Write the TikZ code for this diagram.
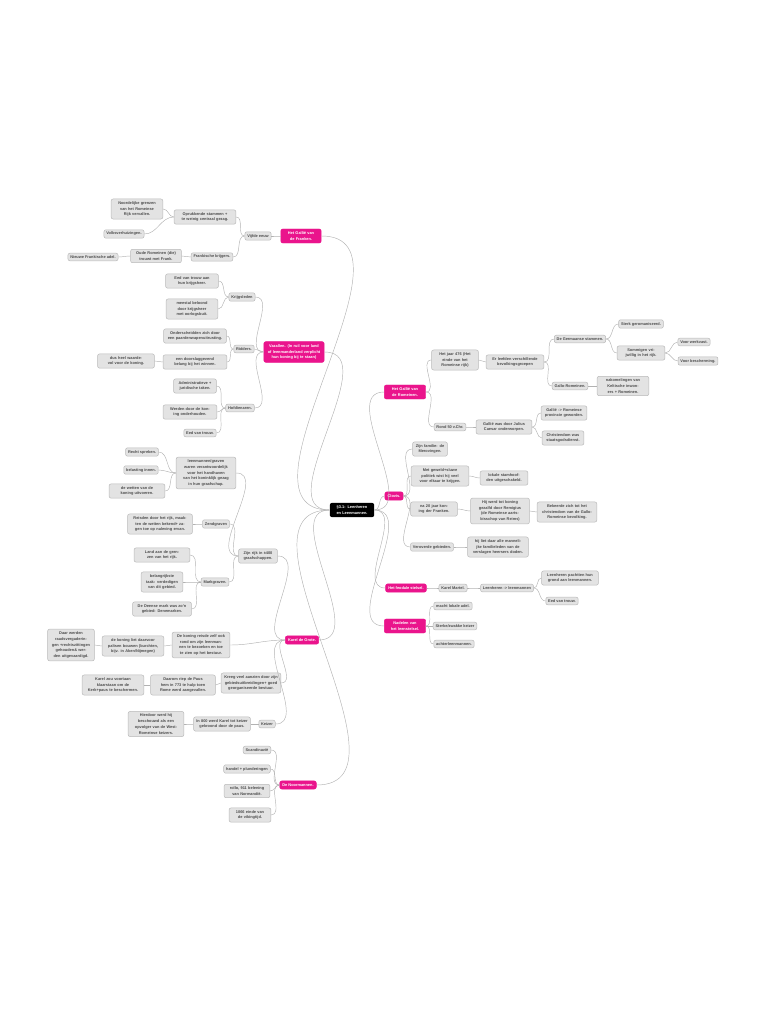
\documentclass[tikz,border=0pt]{standalone}
\usepackage{fontspec}
\setmainfont{Liberation Sans}
\begin{document}
\begin{tikzpicture}[x=1pt,y=-1pt,
 every node/.style={font=\fontsize{3.9}{5.8}\selectfont\bfseries, text=black!70, align=center},
 box/.style={draw=gray!55, fill=gray!22, rounded corners=2pt, inner sep=2.4pt, line width=0.5pt},
 pk/.style={fill={rgb,255:red,234;green,20;blue,140}, draw={rgb,255:red,234;green,20;blue,140}, text=white, rounded corners=2pt, inner sep=2.7pt},
 rt/.style={fill=black, text=white, rounded corners=2pt, inner sep=2.7pt},
 cn/.style={draw=gray!60, line width=0.45pt}]
\useasboundingbox (0,0) rectangle (768,1024);
\def\L#1#2{\draw[cn] (#1.west) to[out=180,in=0] (#2.east);}
\def\R#1#2{\draw[cn] (#1.east) to[out=0,in=180] (#2.west);}
% root
\node[rt,text width=39] (root) at (352,510) {§3.1: Leenheren en Leenmannen.};
% ---- Franken
\node[pk,text width=35] (fr) at (301,236) {Het Gallië van de Franken.};
\node[box] (v5) at (258,236) {Vijfde eeuw};
\node[box,text width=57] (opr) at (205,217) {Oprukkende stammen + te weinig centraal gezag.};
\node[box,text width=47] (noo) at (137,209) {Noordelijke grenzen van het Romeinse Rijk vervallen.};
\node[box] (vol) at (124,234) {Volksverhuizingen.};
\node[box] (fk) at (212,257) {Frankische krijgers.};
\node[box,text width=46] (oud) at (156,256) {Oude Romeinen (die) trouwt met Frank.};
\node[box] (nie) at (93,257) {Nieuwe Frankische adel.};
% ---- Vazallen
\node[pk,text width=55] (vaz) at (294,352) {Vazallen. (In ruil voor land of leenmanderland verplicht hun koning bij te staan)};
\node[box] (kr) at (242,297) {Krijgsleden};
\node[box,text width=48] (eed1) at (192,281) {Eed van trouw aan hun krijgsheer.};
\node[box,text width=47] (mee) at (192,309) {meestal beloond door krijgsheer met oorlogsbuit.};
\node[box] (rid) at (244,349) {Ridders.};
\node[box,text width=58] (ond) at (195,336) {Onderscheidden zich door een paardenwapenuitrusting.};
\node[box,text width=59] (doo) at (195,362) {een doorslaggevend belang bij het winnen.};
\node[box,text width=52] (dus) at (126,361) {dus heel waardevol voor de koning.};
\node[box] (hof) at (240,408) {Hofdienaren.};
\node[box,text width=38] (adm) at (195,386) {Administratieve + juridische taken.};
\node[box,text width=49] (wer) at (190,412) {Werden door de koning onderhouden.};
\node[box] (eed2) at (200,433) {Eed van trouw.};
% ---- Karel de Grote
\node[pk] (kdg) at (302,640) {Karel de Grote.};
\node[box,text width=34] (zij) at (258,556) {Zijn rijk in ±400 graafschappen.};
\node[box,text width=55] (lee) at (206,473) {leenmannen/graven waren verantwoordelijk voor het handhaven van het koninklijk gezag in hun graafschap.};
\node[box] (rec) at (142,452) {Recht spreken.};
\node[box] (bel) at (141,470) {belasting innen.};
\node[box,text width=51] (wet) at (137,491) {de wetten van de koning uitvoeren.};
\node[box] (zen) at (216,524) {Zendgraven};
\node[box,text width=60] (rei) at (160,524) {Reisden door het rijk, maakten de wetten bekend+ zagen toe op naleving ervan.};
\node[box] (mar) at (215,582) {Markgraven.};
\node[box,text width=51] (lan) at (162,555) {Land aan de grenzen van het rijk.};
\node[box,text width=37] (bta) at (162,582) {belangrijkste taak: verdedigen van dit gebied.};
\node[box,text width=54] (den) at (162,609) {De Deense mark was zo'n gebied: Denemarken.};
\node[box,text width=53] (kre) at (201,645) {De koning reisde zelf ook rond om zijn leenmannen te bezoeken en toe te zien op het bestuur.};
\node[box,text width=57] (pal) at (133,646) {de koning liet daarvoor paltsen bouwen (burchten, bijv. in Aken/Nijmegen)};
\node[box,text width=42] (daa) at (71,645) {Daar werden raadsvergaderingen +rechtszittingen gehouden\& werden uitgevaardigd.};
\node[box,text width=55] (kvz) at (251,683) {Kreeg veel aanzien door zijn gebiedsuitbreidingen+ goed georganiseerde bestuur.};
\node[box,text width=60] (dar) at (183,685) {Daarom riep de Paus hem in 773 te hulp toen Rome werd aangevallen.};
\node[box,text width=57] (kzv) at (113,685) {Karel zou voortaan klaarstaan om de Kerk+paus te beschermen.};
\node[box] (kei) at (267,724) {Keizer};
\node[box,text width=52] (in8) at (222,724) {In 800 werd Karel tot keizer gekroond door de paus.};
\node[box,text width=51] (hie) at (156,724) {Hierdoor werd hij beschouwd als een opvolger van de West-Romeinse keizers.};
% ---- Noormannen
\node[pk] (noor) at (298,785) {De Noormannen.};
\node[box] (sca) at (257,750) {Scandinavië};
\node[box] (han) at (247,769) {handel + plunderingen};
\node[box,text width=41] (rol) at (247,791) {rollo, 911 belening van Normandië.};
\node[box,text width=37] (n66) at (250,815) {1066 einde van de vikingtijd.};
% ---- Romeinen
\node[pk,text width=36] (rom) at (405,392) {Het Gallië van de Romeinen.};
\node[box,text width=42] (j476) at (455,360) {Het jaar 476 (Het einde van het Romeinse rijk)};
\node[box,text width=53] (erl) at (515,362) {Er leefden verschillende bevolkingsgroepen};
\node[box] (ger) at (580,339) {De Germaanse stammen.};
\node[box] (ste) at (641,324) {Sterk geromaniseerd.};
\node[box,text width=43] (som) at (641,353) {Sommigen vrijwillig in het rijk.};
\node[box] (vwe) at (694,342) {Voor werkvast.};
\node[box] (vbe) at (698,361) {Voor bescherming.};
\node[box] (gal) at (570,386) {Gallo-Romeinen.};
\node[box,text width=47] (nak) at (623,386) {nakomelingen van Keltische inwoners + Romeinen.};
\node[box] (r50) at (450,427) {Rond 50 v.Chr.};
\node[box,text width=51] (gjc) at (504,427) {Gallië was door Julius Caesar onderworpen.};
\node[box,text width=41] (grp) at (564,413) {Gallië -> Romeinse provincie geworden.};
\node[box,text width=37] (chr) at (563,438) {Christendom was staatsgodsdienst.};
% ---- Clovis
\node[pk] (clo) at (394,496) {Clovis.};
\node[box,text width=30] (zfa) at (430,449) {Zijn familie: de Merovingen.};
\node[box,text width=53] (mgw) at (440,476) {Met geweld+sluwe politiek wist hij veel voor elkaar te krijgen.};
\node[box,text width=43] (lok) at (504,478) {lokale stamhoofden uitgeschakeld.};
\node[box,text width=42] (n20) at (434,509) {na 20 jaar koning der Franken.};
\node[box,text width=54] (hwk) at (500,511) {Hij werd tot koning gezalfd door Remigius (de Romeinse aartsbisschop van Reims)};
\node[box,text width=55] (bek) at (567,512) {Bekeerde zich tot het christendom van de Gallo-Romeinse bevolking.};
\node[box] (ver) at (432,547) {Veroverde gebieden.};
\node[box,text width=56] (hld) at (498,547) {hij liet daar alle mannelijke familieleden van de verslagen heersers doden.};
% ---- Feodale stelsel
\node[pk] (feo) at (406,588) {Het feodale stelsel.};
\node[box] (kma) at (453,588) {Karel Martel.};
\node[box] (llm) at (507,588) {Leenheren -> leenmannen};
\node[box,text width=52] (lpa) at (570,578) {Leenheren pachtten hun grond aan leenmannen.};
\node[box] (eed3) at (562,601) {Eed van trouw.};
% ---- Nadelen
\node[pk,text width=36] (nad) at (405,626) {Nadelen van het leenstelsel.};
\node[box] (mla) at (453,606) {macht lokale adel.};
\node[box] (szk) at (455,626) {Sterke/zwakke keizer};
\node[box] (ach) at (454,644) {achterleenmannen.};
% ---- connectors
\L{root}{fr} \L{root}{vaz} \L{root}{kdg} \L{root}{noor}
\R{root}{rom} \R{root}{clo} \R{root}{feo} \R{root}{nad}
\L{fr}{v5} \L{v5}{opr} \L{v5}{fk} \L{opr}{noo} \L{opr}{vol} \L{fk}{oud} \L{oud}{nie}
\L{vaz}{kr} \L{vaz}{rid} \L{vaz}{hof} \L{kr}{eed1} \L{kr}{mee} \L{rid}{ond} \L{rid}{doo} \L{doo}{dus}
\L{hof}{adm} \L{hof}{wer} \L{hof}{eed2}
\L{kdg}{zij} \L{kdg}{kre} \L{kdg}{kvz} \L{kdg}{kei}
\L{zij}{lee} \L{zij}{zen} \L{zij}{mar} \L{lee}{rec} \L{lee}{bel} \L{lee}{wet} \L{zen}{rei}
\L{mar}{lan} \L{mar}{bta} \L{mar}{den} \L{kre}{pal} \L{pal}{daa} \L{kvz}{dar} \L{dar}{kzv} \L{kei}{in8} \L{in8}{hie}
\L{noor}{sca} \L{noor}{han} \L{noor}{rol} \L{noor}{n66}
\R{rom}{j476} \R{rom}{r50} \R{j476}{erl} \R{erl}{ger} \R{erl}{gal} \R{ger}{ste} \R{ger}{som} \R{som}{vwe} \R{som}{vbe} \R{gal}{nak}
\R{r50}{gjc} \R{gjc}{grp} \R{gjc}{chr}
\R{clo}{zfa} \R{clo}{mgw} \R{clo}{n20} \R{clo}{ver} \R{mgw}{lok} \R{n20}{hwk} \R{hwk}{bek} \R{ver}{hld}
\R{feo}{kma} \R{kma}{llm} \R{llm}{lpa} \R{llm}{eed3}
\R{nad}{mla} \R{nad}{szk} \R{nad}{ach}
\end{tikzpicture}
\end{document}
